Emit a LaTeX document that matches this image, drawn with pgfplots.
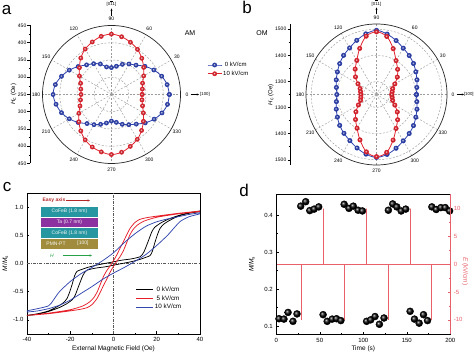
\documentclass[border=0pt]{standalone}
\usepackage{fontspec}
\setmainfont{Liberation Sans}
\usepackage{pgfplots}
\usepackage{pgfplotstable}
\pgfplotsset{compat=1.18}
\usetikzlibrary{arrows.meta}

\definecolor{pblue}{RGB}{45,65,175}
\definecolor{pred}{RGB}{225,35,45}
\definecolor{cred}{RGB}{230,30,40}
\definecolor{cblue}{RGB}{50,70,175}
\definecolor{dred}{RGB}{232,96,106}
\definecolor{gridgray}{RGB}{155,155,155}
\definecolor{teal1}{RGB}{38,150,160}
\definecolor{purp}{RGB}{140,50,160}
\definecolor{olive1}{RGB}{160,140,60}
\definecolor{easyred}{RGB}{180,40,40}
\definecolor{hgreen}{RGB}{40,160,70}

\pgfplotsset{/pgf/number format/assume math mode=true}

\pgfplotstableread{
a B R
0 418 339
10 414 341
20 405 346
30 392 358
40 377 372
50 361 387
60 352 401
70 343 411
80 333 420
90 328 425
100 331 421
110 344 412
120 353 402
130 362 388
140 376 371
150 391 357
160 404 345
170 415 340
180 419 338
190 413 341
200 404 347
210 391 359
220 376 373
230 360 388
240 351 402
250 342 412
260 334 419
270 327 424
280 332 420
290 342 410
300 351 400
310 362 386
320 378 371
330 393 357
340 406 346
350 415 340
360 418 339
}\polarA

\pgfplotstableread{
a B R
0 1403 1309
10 1407 1311
20 1415 1316
30 1424 1331
40 1435 1354
50 1445 1376
60 1455 1400
70 1470 1437
80 1485 1476
90 1496 1490
100 1486 1477
110 1471 1438
120 1456 1401
130 1446 1377
140 1434 1355
150 1423 1332
160 1414 1317
170 1406 1312
180 1402 1310
190 1406 1311
200 1414 1315
210 1423 1330
220 1434 1353
230 1444 1375
240 1454 1399
250 1468 1435
260 1482 1473
270 1491 1488
280 1483 1475
290 1469 1436
300 1455 1400
310 1445 1376
320 1435 1354
330 1424 1331
340 1415 1316
350 1407 1311
360 1403 1309
}\polarB

\pgfplotstableread{
t M
3.1 0.120
8.8 0.119
13.5 0.137
19.2 0.113
23.8 0.133
28.1 0.424
33.8 0.436
38.5 0.412
43.5 0.416
48.8 0.422
53.8 0.131
58.5 0.113
64.2 0.119
69.2 0.120
74.2 0.115
78.0 0.429
83.5 0.418
88.5 0.424
94.0 0.413
99.0 0.411
103.8 0.113
108.5 0.117
113.5 0.126
118.5 0.105
123.8 0.122
128.8 0.413
133.8 0.430
138.5 0.422
143.5 0.411
148.8 0.416
153.8 0.140
158.8 0.119
164.2 0.108
169.2 0.131
173.8 0.115
178.8 0.422
183.8 0.415
189.2 0.420
194.2 0.420
199.2 0.411
}\switchD

\begin{document}
\begin{tikzpicture}
\useasboundingbox (0pt,0pt) rectangle (474pt,355pt);

% ---------------- panel letters
\node[font=\fontsize{17}{17}\selectfont, anchor=base] at (6.7pt,340pt) {a};
\node[font=\fontsize{17}{17}\selectfont, anchor=base] at (247pt,341.7pt) {b};
\node[font=\fontsize{17}{17}\selectfont, anchor=base] at (7pt,163.5pt) {c};
\node[font=\fontsize{17}{17}\selectfont, anchor=base] at (244pt,158pt) {d};

% ---------------- panel a background (polar grid)
\begin{scope}[shift={(111.5pt,260.5pt)}]
  \foreach \r in {17.25,34.5,51.75}
    \draw[gridgray, line width=0.45pt, dash pattern=on 2pt off 1.6pt] (0pt,0pt) circle[radius=\r pt];
  \foreach \t in {0,30,...,330}
    \draw[gridgray, line width=0.45pt, dash pattern=on 2pt off 1.6pt] (0pt,0pt) -- (\t:69pt);
  \draw[black!85, line width=0.7pt] (0pt,0pt) circle[radius=69pt];
  \foreach \t in {0,30,...,330}
    \node[font=\fontsize{5}{6}\selectfont, inner sep=0pt] at (\t:75.5pt) {\t};
  \draw[-{Stealth[length=2.2pt,width=2pt]}, line width=0.5pt] (79pt,0pt) -- (87.5pt,0pt);
  \node[font=\fontsize{4.3}{5}\selectfont, inner sep=0pt] at (93.5pt,0pt) {[100]};
  \draw[-{Stealth[length=2.2pt,width=2pt]}, line width=0.5pt] (0pt,78.5pt) -- (0pt,86pt);
  \node[font=\fontsize{4.3}{5}\selectfont, inner sep=0pt] at (0pt,91pt) {[0$\overline{\mbox{1}}$1]};
\end{scope}
\node[font=\fontsize{7}{8}\selectfont] at (190pt,322pt) {AM};

% ---------------- panel b background
\begin{scope}[shift={(376.5pt,260.5pt)}]
  \foreach \r in {13.05,39.15,65.25}
    \draw[gridgray, line width=0.45pt, dash pattern=on 2pt off 1.6pt] (0pt,0pt) circle[radius=\r pt];
  \foreach \t in {0,30,...,330}
    \draw[gridgray, line width=0.45pt, dash pattern=on 2pt off 1.6pt] (0pt,0pt) -- (\t:70.5pt);
  \fill[gray!70] (0pt,0pt) circle[radius=1.8pt];
  \draw[black!85, line width=0.7pt] (0pt,0pt) circle[radius=70.5pt];
  \foreach \t in {0,30,...,330}
    \node[font=\fontsize{5}{6}\selectfont, inner sep=0pt] at (\t:76.5pt) {\t};
  \draw[-{Stealth[length=2.2pt,width=2pt]}, line width=0.5pt] (80pt,0pt) -- (87.5pt,0pt);
  \node[font=\fontsize{4.3}{5}\selectfont, inner sep=0pt] at (92.3pt,0pt) {[100]};
  \draw[-{Stealth[length=2.2pt,width=2pt]}, line width=0.5pt] (0pt,80pt) -- (0pt,87pt);
  \node[font=\fontsize{4.3}{5}\selectfont, inner sep=0pt] at (0pt,91.5pt) {[0$\overline{\mbox{1}}$1]};
\end{scope}
\node[font=\fontsize{7}{8}\selectfont] at (262pt,322pt) {OM};

% ---------------- panel a data + radial ruler
\begin{axis}[at={(30pt,191.5pt)}, anchor=south west, scale only axis,
  x=0.345pt, y=0.345pt, xmin=-236, xmax=200, ymin=-200, ymax=200,
  enlargelimits=false, clip=false,
  axis x line=none, axis y line*=left,
  y axis line style={line width=0.5pt},
  ytick={-200,-150,-100,-50,0,50,100,150,200},
  yticklabels={450,400,350,300,250,300,350,400,450},
  minor y tick num=1, tick align=outside,
  major tick length=2.5pt, minor tick length=1.4pt,
  tick style={line width=0.5pt, black},
  yticklabel style={font=\fontsize{5}{6}\selectfont, inner sep=1pt},
  ylabel={{\itshape H}\textsubscript{c} (Oe)},
  ylabel style={font=\fontsize{6}{7}\selectfont, yshift=-3pt},
  legend style={at={(axis description cs:1.177,0.745)}, anchor=north west,
    draw=none, fill=none, font=\fontsize{6}{7}\selectfont, inner sep=0pt,
    nodes={inner sep=1.2pt}, row sep=0.5pt},
  legend image code/.code={\draw[mark repeat=2,mark phase=2,#1] plot coordinates {(0pt,0pt) (7pt,0pt) (14pt,0pt)};},
]
\addplot[pblue, line width=0.8pt, smooth, tension=0.55, mark=ball, mark size=2pt, mark options={ball color=pblue}]
  table[x expr={(\thisrow{B}-250)*cos(\thisrow{a})}, y expr={(\thisrow{B}-250)*sin(\thisrow{a})}] {\polarA};
\addlegendentry{0 kV/cm}
\addplot[pred, line width=0.8pt, smooth, tension=0.55, mark=ball, mark size=2pt, mark options={ball color=pred}]
  table[x expr={(\thisrow{R}-250)*cos(\thisrow{a})}, y expr={(\thisrow{R}-250)*sin(\thisrow{a})}] {\polarA};
\addlegendentry{10 kV/cm}
\end{axis}

% ---------------- panel b data + radial ruler
\begin{axis}[at={(290pt,190pt)}, anchor=south west, scale only axis,
  x=0.261pt, y=0.261pt, xmin=-331.4, xmax=270, ymin=-270, ymax=270,
  enlargelimits=false, clip=false,
  axis x line=none, axis y line*=left,
  y axis line style={line width=0.5pt},
  ytick={-250,-150,-50,50,150,250},
  yticklabels={1500,1400,1300,1300,1400,1500},
  minor ytick={-200,-100,0,100,200}, tick align=outside,
  major tick length=2.5pt, minor tick length=1.4pt,
  tick style={line width=0.5pt, black},
  yticklabel style={font=\fontsize{5}{6}\selectfont, inner sep=1pt},
  ylabel={{\itshape H}\textsubscript{c} (Oe)},
  ylabel style={font=\fontsize{6}{7}\selectfont, yshift=-3pt},
]
\addplot[pblue, line width=0.8pt, smooth, tension=0.55, mark=ball, mark size=2.1pt, mark options={ball color=pblue}]
  table[x expr={(\thisrow{B}-1250)*cos(\thisrow{a})}, y expr={(\thisrow{B}-1250)*sin(\thisrow{a})}] {\polarB};
\addplot[pred, line width=0.8pt, smooth, tension=0.55, mark=ball, mark size=2.1pt, mark options={ball color=pred}]
  table[x expr={(\thisrow{R}-1250)*cos(\thisrow{a})}, y expr={(\thisrow{R}-1250)*sin(\thisrow{a})}] {\polarB};
\end{axis}

% ---------------- panel c
\begin{axis}[at={(27pt,21pt)}, anchor=south west, scale only axis,
  width=173pt, height=141pt,
  xmin=-40, xmax=40, ymin=-1.25, ymax=1.25, enlargelimits=false,
  xtick={-40,-20,0,20,40}, minor x tick num=1,
  ytick={-1,-0.5,0,0.5,1}, minor y tick num=1,
  xtick pos=bottom, ytick pos=left, tick align=inside,
  major tick length=2.5pt, minor tick length=1.4pt,
  axis line style={line width=0.6pt}, tick style={line width=0.5pt, black},
  yticklabel style={/pgf/number format/.cd, fixed, fixed zerofill, precision=1},
  ticklabel style={font=\fontsize{6}{7}\selectfont},
  xlabel={External Magnetic Field (Oe)},
  ylabel={{\itshape M}/{\itshape M}\textsubscript{s}},
  label style={font=\fontsize{6.5}{8}\selectfont},
  xlabel style={yshift=3pt}, ylabel style={yshift=-2pt},
  legend style={at={(axis description cs:0.628,0.345)}, anchor=north west,
    draw=none, fill=none, font=\fontsize{6.3}{7}\selectfont, inner sep=0pt,
    nodes={inner sep=1.3pt}, row sep=0pt},
  legend image code/.code={\draw[#1, line width=0.8pt] (0pt,0pt) -- (17pt,0pt);},
]
\draw[gray!70!black, line width=0.5pt, dash pattern=on 3pt off 1.2pt on 0.8pt off 1.2pt] (axis cs:0,-1.25) -- (axis cs:0,1.25);
\draw[gray!70!black, line width=0.5pt, dash pattern=on 3pt off 1.2pt on 0.8pt off 1.2pt] (axis cs:-40,0) -- (axis cs:40,0);
\addplot[black, line width=0.75pt, smooth, tension=0.4] coordinates {
(40,0.93)(35,0.9)(30,0.85)(25,0.78)(21.5,0.71)(19,0.64)(17.7,0.56)(16.5,0.44)(15.3,0.32)(14,0.2)(12.3,0.12)(8,0.08)(4,0.06)(0,0.03)(-4,0.0)(-8,-0.03)(-12,-0.07)(-15,-0.11)(-16.9,-0.14)(-18,-0.22)(-19.2,-0.38)(-20.5,-0.53)(-21.5,-0.62)(-23,-0.69)(-25.3,-0.75)(-30,-0.84)(-35,-0.89)(-40,-0.92)
(-35,-0.9)(-30,-0.85)(-25,-0.78)(-21.5,-0.71)(-19,-0.64)(-17.7,-0.56)(-16.5,-0.44)(-15.3,-0.32)(-14,-0.2)(-12.3,-0.12)(-8,-0.08)(-4,-0.06)(0,-0.03)(4,0.0)(8,0.03)(12,0.07)(15,0.11)(16.9,0.14)(18,0.22)(19.2,0.38)(20.5,0.53)(21.5,0.62)(23,0.69)(25.3,0.75)(30,0.84)(35,0.89)(40,0.92)};
\addlegendentry{0 kV/cm}
\addplot[cred, line width=0.75pt, smooth, tension=0.4] coordinates {
(40,0.93)(30,0.89)(20,0.84)(15,0.81)(12,0.78)(10,0.73)(8.8,0.68)(7.6,0.62)(6,0.5)(4.5,0.38)(3,0.27)(1.5,0.15)(0,0.05)(-1.5,-0.04)(-3,-0.12)(-4.5,-0.22)(-6,-0.36)(-7.5,-0.5)(-9,-0.6)(-11,-0.68)(-14,-0.75)(-20,-0.82)(-30,-0.88)(-40,-0.92)
(-30,-0.89)(-20,-0.84)(-15,-0.81)(-12,-0.78)(-10,-0.73)(-8.8,-0.68)(-7.6,-0.62)(-6,-0.5)(-4.5,-0.38)(-3,-0.27)(-1.5,-0.15)(0,-0.05)(1.5,0.04)(3,0.12)(4.5,0.22)(6,0.36)(7.5,0.5)(9,0.6)(11,0.68)(14,0.75)(20,0.82)(30,0.88)(40,0.92)};
\addlegendentry{5 kV/cm}
\addplot[cblue, line width=0.75pt, smooth, tension=0.4] coordinates {
(40,0.9)(35,0.87)(30,0.83)(25,0.79)(20,0.74)(15,0.66)(10,0.53)(5,0.37)(0,0.19)(-5,0.05)(-10,-0.07)(-15,-0.18)(-20,-0.32)(-25,-0.5)(-28,-0.66)(-30,-0.75)(-35,-0.8)(-40,-0.84)
(-40,-0.86)(-35,-0.84)(-30,-0.8)(-25,-0.74)(-20,-0.65)(-15,-0.53)(-10,-0.41)(-5,-0.28)(0,-0.17)(5,-0.07)(10,0.04)(15,0.16)(20,0.32)(25,0.5)(28,0.63)(31,0.75)(35,0.83)(40,0.88)};
\addlegendentry{10 kV/cm}
\end{axis}

% inset of panel c
\fill[teal1] (41pt,138.3pt) rectangle (98pt,148.3pt);
\fill[purp] (41pt,127.8pt) rectangle (98pt,137.3pt);
\fill[teal1] (41pt,117.3pt) rectangle (98pt,126.8pt);
\fill[olive1] (41pt,106.3pt) rectangle (98pt,116.3pt);
\begin{scope}[every node/.style={font=\fontsize{5}{6}\selectfont, text=white!92!gray, inner sep=0pt}]
\node at (69.5pt,143.3pt) {CoFeB (1.8 nm)};
\node at (69.5pt,132.5pt) {Ta (0.7 nm)};
\node at (69.5pt,122pt) {CoFeB (1.8 nm)};
\node at (56pt,111.3pt) {PMN-PT};
\node at (83pt,111.3pt) {[100]};
\end{scope}
\node[font=\bfseries\fontsize{5}{6}\selectfont, text=easyred, inner sep=0pt] at (54pt,154.5pt) {Easy axis};
\draw[easyred, line width=0.7pt, -{Stealth[length=2.5pt,width=2.2pt]}] (65.5pt,154.5pt) -- (90pt,154.5pt);
\node[font=\itshape\fontsize{5}{6}\selectfont, text=hgreen, inner sep=0pt] at (52pt,99.5pt) {H};
\draw[hgreen, line width=0.7pt, -{Stealth[length=2.5pt,width=2.2pt]}] (63pt,99.5pt) -- (92pt,99.5pt);

% ---------------- panel d: E axis (right)
\begin{axis}[at={(276.3pt,20.7pt)}, anchor=south west, scale only axis,
  width=174pt, height=140pt,
  xmin=0, xmax=200, ymin=-12.6, ymax=12.6, enlargelimits=false,
  axis x line=none, axis y line*=right,
  y axis line style={dred, line width=0.6pt},
  ytick={-10,-5,0,5,10}, minor y tick num=1, tick align=inside,
  major tick length=2.5pt, minor tick length=1.4pt,
  ytick style={dred, line width=0.5pt},
  yticklabel style={text=dred, font=\fontsize{6}{7}\selectfont},
  ylabel={{\itshape E} (kV/cm)},
  ylabel style={text=dred, font=\fontsize{6.5}{8}\selectfont, at={(axis description cs:1.085,0.45)}, anchor=center, rotate=180},
]
\addplot[dred, line width=0.9pt] coordinates {
(0.3,10)(0.3,0)(28.8,0)(28.8,-10)(28.8,0)(53.8,0)(53.8,10)(53.8,0)(78.8,0)(78.8,-10)(78.8,0)(103.8,0)(103.8,10)(103.8,0)(128.8,0)(128.8,-10)(128.8,0)(153.8,0)(153.8,10)(153.8,0)(178.8,0)(178.8,-10)(178.8,0)(200,0)};
\end{axis}

% ---------------- panel d: M axis (left)
\begin{axis}[at={(276.3pt,20.7pt)}, anchor=south west, scale only axis,
  width=174pt, height=140pt,
  xmin=0, xmax=200, ymin=0.078, ymax=0.456, enlargelimits=false,
  xtick={0,50,100,150,200}, minor x tick num=1,
  ytick={0.1,0.2,0.3,0.4}, minor y tick num=1,
  xtick pos=bottom, ytick pos=left, tick align=inside,
  major tick length=2.5pt, minor tick length=1.4pt,
  axis line style={line width=0.6pt}, tick style={line width=0.5pt, black},
  yticklabel style={/pgf/number format/.cd, fixed, fixed zerofill, precision=1},
  ticklabel style={font=\fontsize{6}{7}\selectfont},
  xlabel={Time (s)},
  ylabel={{\itshape M}/{\itshape M}\textsubscript{s}},
  label style={font=\fontsize{6.5}{8}\selectfont},
  xlabel style={yshift=3pt}, ylabel style={yshift=3pt},
]
\addplot[only marks, mark=ball, mark size=3.5pt, mark options={ball color=black}] table[x=t, y=M] {\switchD};
\end{axis}
\draw[dred, line width=0.6pt] (450.3pt,20.7pt) -- (450.3pt,160.7pt);

\end{tikzpicture}
\end{document}
